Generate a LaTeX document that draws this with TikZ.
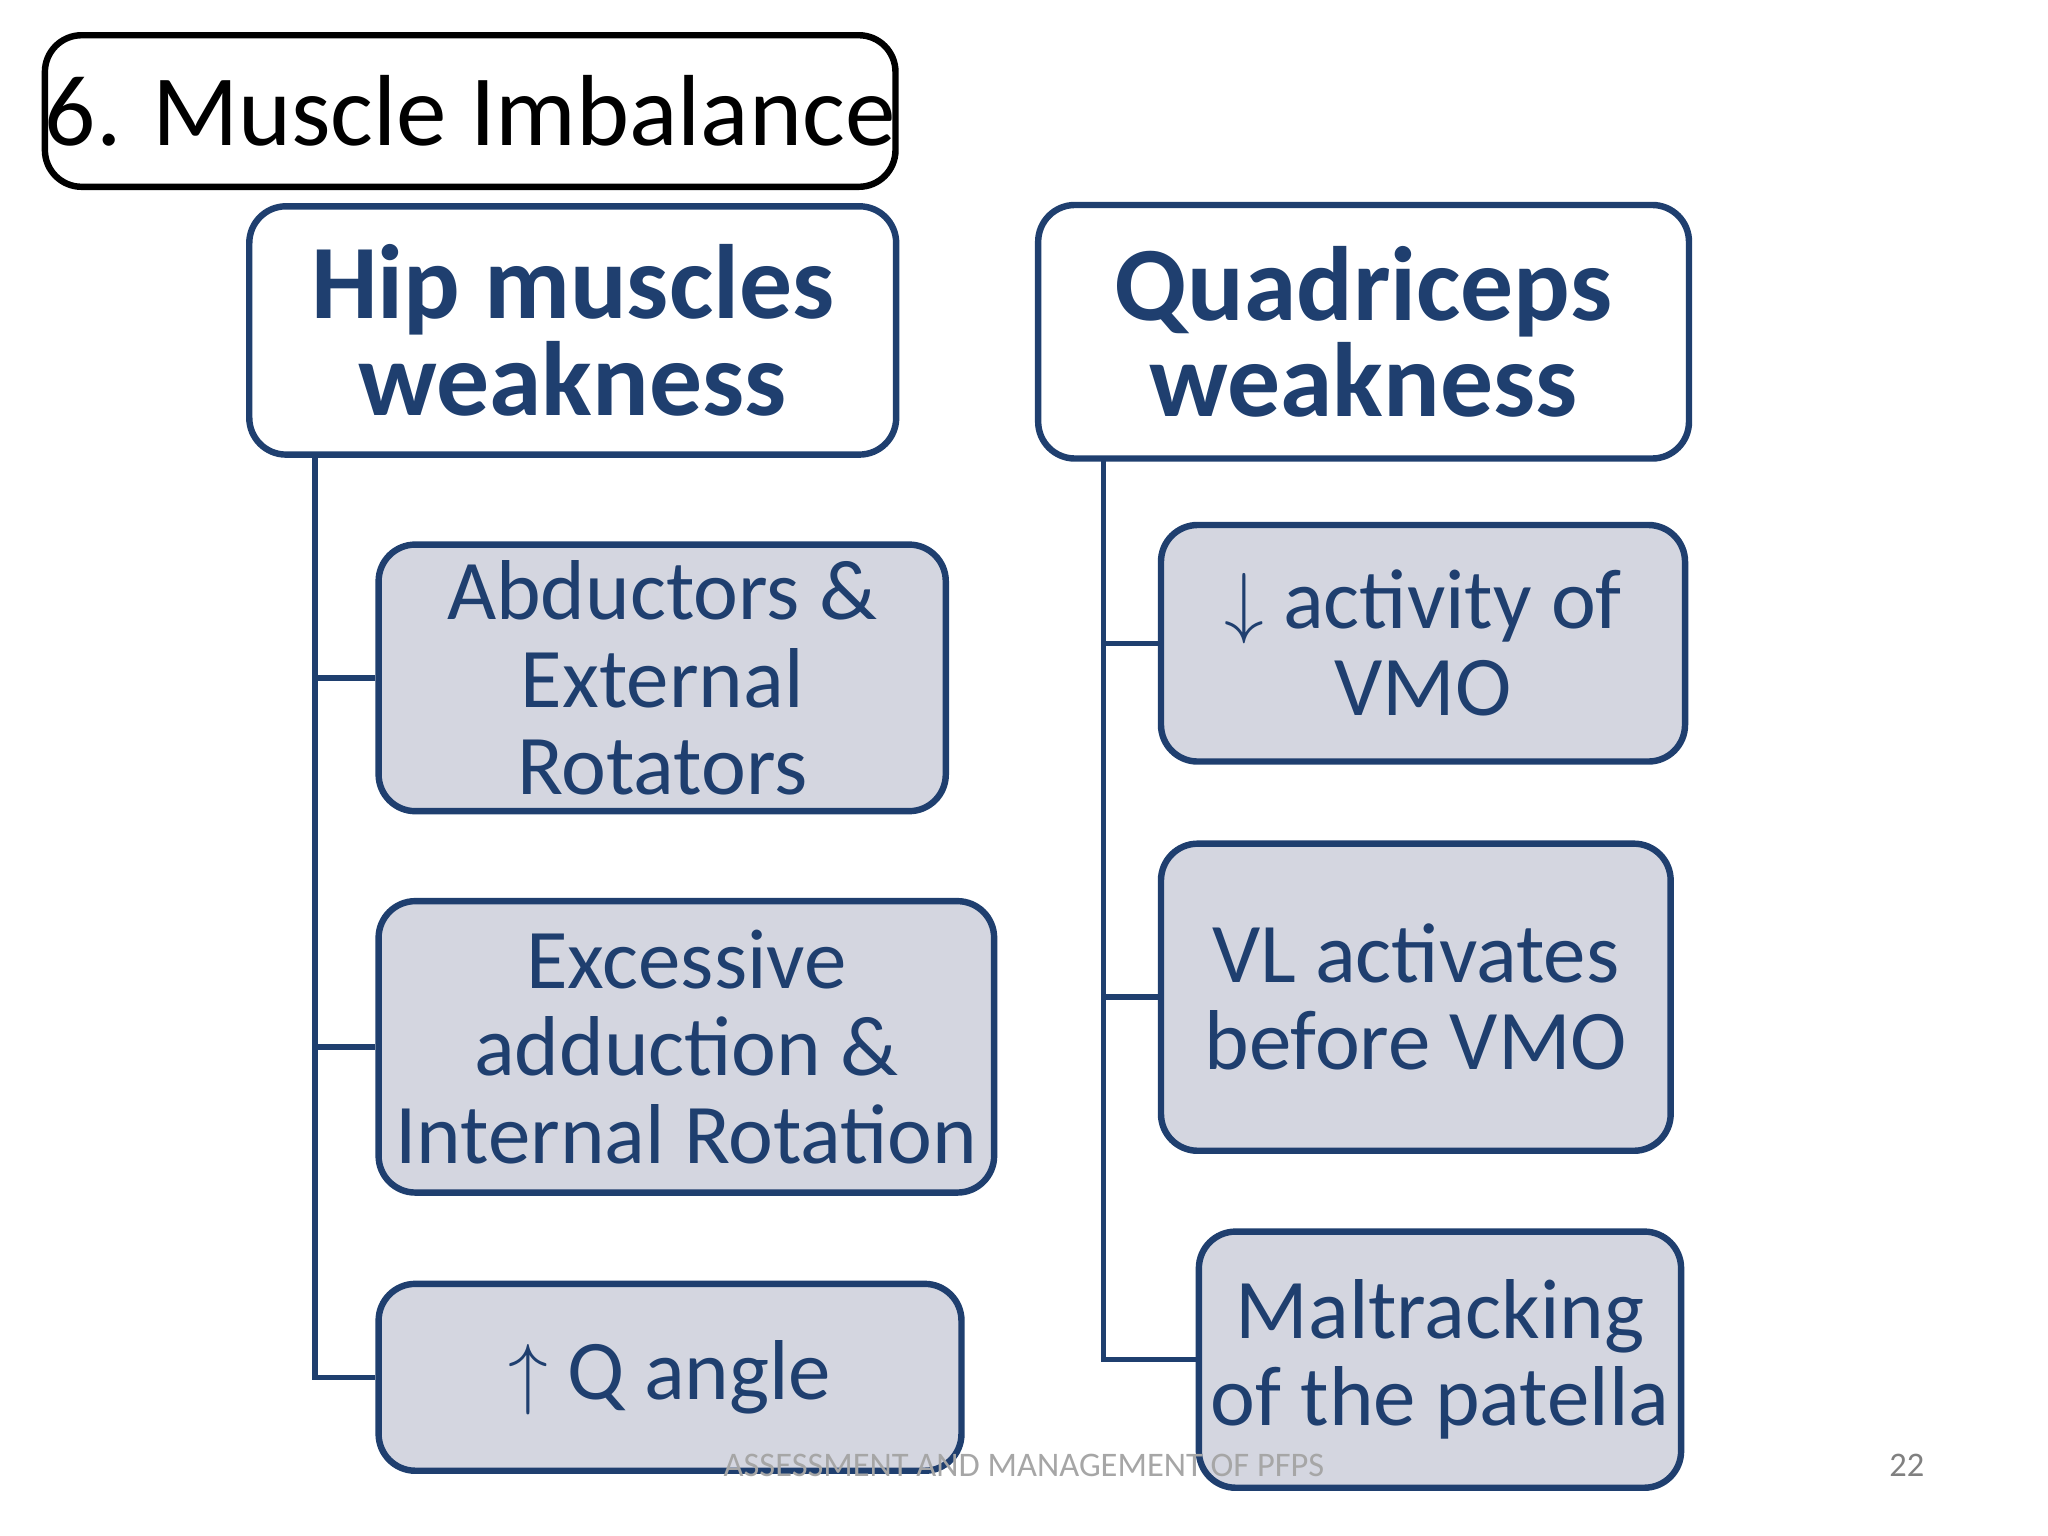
\documentclass[tikz,border=0pt]{standalone}
\usepackage{fontspec}
\setmainfont{Carlito}
\definecolor{dblue}{HTML}{1F3F6F}
\definecolor{bfill}{HTML}{D4D6E0}
\begin{document}
\begin{tikzpicture}[x=0.01cm,y=-0.01cm,
 hdr/.style={draw=dblue,line width=1.4pt,rounded corners=8pt,fill=white,text=dblue,font=\fontsize{23}{21}\selectfont\bfseries,align=center,inner sep=0pt},
 sub/.style={draw=dblue,line width=1.4pt,rounded corners=8pt,fill=bfill,text=dblue,font=\fontsize{18.5}{19}\selectfont,align=center,inner sep=0pt},
 conn/.style={draw=dblue,line width=1.2pt}]
\useasboundingbox (0,0) rectangle (1568,1176);
\node[draw=black,line width=1.4pt,rounded corners=8pt,minimum width=64mm,minimum height=11.6mm,inner sep=0pt,font=\fontsize{22}{24}\selectfont] (title) at (360,85) {6. Muscle Imbalance};
\node[hdr,minimum width=49.5mm,minimum height=19mm] (hip) at (438.5,253) {Hip muscles\\weakness};
\node[hdr,minimum width=49.8mm,minimum height=19.4mm] (quad) at (1044,254) {Quadriceps\\weakness};
\node[sub,minimum width=43.4mm,minimum height=20.4mm] (abd) at (507,519) {Abductors \&\\External\\Rotators};
\node[sub,minimum width=47.1mm,minimum height=22.3mm] (exc) at (525.5,801.5) {Excessive\\adduction \&\\Internal Rotation};
\node[sub,minimum width=44.6mm,minimum height=14.3mm] (qa) at (513,1054.5) {$\uparrow$ Q angle};
\node[sub,minimum width=40.1mm,minimum height=18.1mm] (vmo) at (1089.5,492.5) {$\downarrow$ activity of\\VMO};
\node[sub,minimum width=39mm,minimum height=23.5mm] (vl) at (1084,763.5) {VL activates\\before VMO};
\node[sub,minimum width=36.9mm,minimum height=19.6mm] (mal) at (1102.5,1041) {Maltracking\\of the patella};
\coordinate (ht) at (241,348);
\coordinate (qt) at (845,351);
\draw[conn] (ht) |- (qa.west);
\draw[conn] (ht |- abd.west) -- (abd.west);
\draw[conn] (ht |- exc.west) -- (exc.west);
\draw[conn] (qt) |- (mal.west);
\draw[conn] (qt |- vmo.west) -- (vmo.west);
\draw[conn] (qt |- vl.west) -- (vl.west);
\node[text=gray!70,font=\fontsize{7.5}{9}\selectfont] (foot) at (784,1122) {ASSESSMENT AND MANAGEMENT OF PFPS};
\node[text=gray,font=\fontsize{7.5}{9}\selectfont] (pg) at (1460,1122) {22};
\end{tikzpicture}
\end{document}
